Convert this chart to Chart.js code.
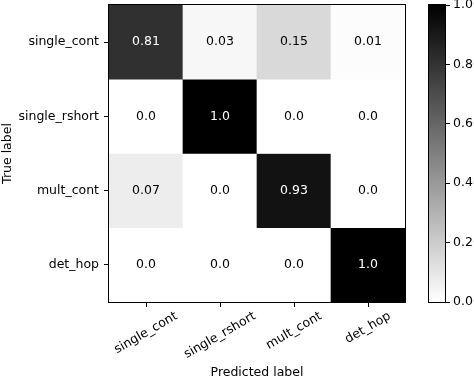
<!DOCTYPE html>
<html><head><meta charset="utf-8">
<script src="https://cdn.jsdelivr.net/npm/chart.js@4.4.1/dist/chart.umd.min.js"></script>
<style>
html,body{margin:0;padding:0;background:#fff;overflow:hidden;width:474px;height:378px;}
#main{position:absolute;left:0;top:0;}
#cbar{position:absolute;left:420px;top:0;}
</style></head><body>
<canvas id="main" width="474" height="378"></canvas>
<canvas id="cbar" width="80" height="378"></canvas>
<script>
const rowLabels = ['single_cont', 'single_rshort', 'mult_cont', 'det_hop'];
const colLabels = ['single_cont', 'single_rshort', 'mult_cont', 'det_hop'];
const singleContRow = [0.81, 0.03, 0.15, 0.01];
const singleRshortRow = [0.0, 1.0, 0.0, 0.0];
const multContRow = [0.07, 0.0, 0.93, 0.0];
const detHopRow = [0.0, 0.0, 0.0, 1.0];
const colorbarTicks = [0, 0.2, 0.4, 0.6, 0.8, 1.0];
const xTitle = 'Predicted label';
const yTitle = 'True label';

const rows = [singleContRow, singleRshortRow, multContRow, detHopRow];
const FONT = '"DejaVu Sans", "Liberation Sans", sans-serif';
const FS = 12.5;
Chart.defaults.font.family = FONT;
Chart.defaults.font.size = FS;
Chart.defaults.color = '#000';

const gray = v => { const c = Math.round(255 * (1 - v)); return `rgb(${c},${c},${c})`; };
const fmt = v => Number.isInteger(v) ? v.toFixed(1) : String(v);

const datasets = rows.map((row, r) => ({
  label: rowLabels[r],
  data: row.map((v, j) => ({ x: colLabels[j], y: [r - 0.5, r + 0.5] })),
  backgroundColor: row.map(gray),
  borderWidth: 0,
  barPercentage: 1,
  categoryPercentage: 1,
  grouped: false
}));

const framePlugin = {
  id: 'frame',
  afterDraw(chart) {
    const a = chart.chartArea, ctx = chart.ctx;
    ctx.save();
    ctx.strokeStyle = '#000';
    ctx.lineWidth = 1;
    ctx.strokeRect(a.left - 0.5, a.top - 0.5, a.right - a.left + 1, a.bottom - a.top + 1);
    ctx.restore();
  }
};

const cellPlugin = {
  id: 'cells',
  afterDatasetsDraw(chart) {
    const { ctx, scales: { x, y } } = chart;
    const a = chart.chartArea;
    ctx.save();
    ctx.font = FS + 'px ' + FONT;
    ctx.textAlign = 'center';
    ctx.textBaseline = 'middle';
    rows.forEach((row, r) => row.forEach((v, j) => {
      ctx.fillStyle = v > 0.5 ? '#fff' : '#000';
      ctx.fillText(fmt(v), x.getPixelForValue(j), y.getPixelForValue(r));
    }));
    // rotated x tick labels, centred on their ticks
    ctx.fillStyle = '#000';
    const ang = Math.PI / 6;
    colLabels.forEach((lab, j) => {
      const w = ctx.measureText(lab).width;
      const bh = w * Math.sin(ang) + 14.5 * Math.cos(ang);
      const cx = x.getPixelForValue(j);
      const cy = a.bottom + 7 + bh / 2;
      ctx.save();
      ctx.translate(cx, cy);
      ctx.rotate(-ang);
      ctx.fillText(lab, 0, 0);
      ctx.restore();
    });
    ctx.restore();
  }
};

new Chart(document.getElementById('main'), {
  type: 'bar',
  data: { labels: colLabels, datasets },
  options: {
    responsive: false,
    animation: false,
    devicePixelRatio: 1,
    layout: { padding: { left: 0, top: 5, right: 69, bottom: 0 } },
    plugins: { legend: { display: false }, tooltip: { enabled: false } },
    scales: {
      x: {
        type: 'category',
        offset: true,
        grid: { display: true, drawOnChartArea: false, drawTicks: true, tickLength: 5, color: '#000', lineWidth: 1, offset: false },
        border: { display: false },
        ticks: { display: false },
        title: { display: true, text: xTitle, padding: { top: 0, bottom: -2 } },
        afterFit(s) { s.height = 76; s.paddingLeft = 0; s.paddingRight = 0; }
      },
      y: {
        type: 'linear',
        min: -0.5, max: 3.5,
        reverse: true,
        grid: { display: true, drawOnChartArea: false, drawTicks: true, tickLength: 5, color: '#000', lineWidth: 1 },
        border: { display: false },
        afterBuildTicks(s) { s.ticks = rowLabels.map((_, i) => ({ value: i })); },
        ticks: { padding: 5, callback: v => rowLabels[v] },
        title: { display: true, text: yTitle, padding: { top: 0, bottom: 0 } },
        afterFit(s) { s.width = 109; s.paddingTop = 0; s.paddingBottom = 0; }
      }
    }
  },
  plugins: [cellPlugin, framePlugin]
});

new Chart(document.getElementById('cbar'), {
  type: 'bar',
  data: {
    labels: ['cb'],
    datasets: [{
      data: [[colorbarTicks[0], colorbarTicks[colorbarTicks.length - 1]]],
      backgroundColor(ctx) {
        const a = ctx.chart.chartArea;
        if (!a) return '#888';
        const g = ctx.chart.ctx.createLinearGradient(0, a.bottom, 0, a.top);
        g.addColorStop(0, gray(0));
        g.addColorStop(1, gray(1));
        return g;
      },
      borderWidth: 0,
      barPercentage: 1,
      categoryPercentage: 1
    }]
  },
  options: {
    responsive: false,
    animation: false,
    devicePixelRatio: 1,
    layout: { padding: { left: 9, top: 5, right: 0, bottom: 76 } },
    plugins: { legend: { display: false }, tooltip: { enabled: false } },
    scales: {
      x: { display: false, offset: true },
      y: {
        type: 'linear',
        position: 'right',
        min: 0, max: 1,
        grid: { display: true, drawOnChartArea: false, drawTicks: true, tickLength: 5, color: '#000', lineWidth: 1 },
        border: { display: false },
        afterBuildTicks(s) { s.ticks = colorbarTicks.map(v => ({ value: v })); },
        ticks: { padding: 3, callback: v => Number(v).toFixed(2) },
        afterFit(s) { s.width = 55; s.paddingTop = 0; s.paddingBottom = 0; }
      }
    }
  },
  plugins: [framePlugin]
});
</script>
</body></html>
